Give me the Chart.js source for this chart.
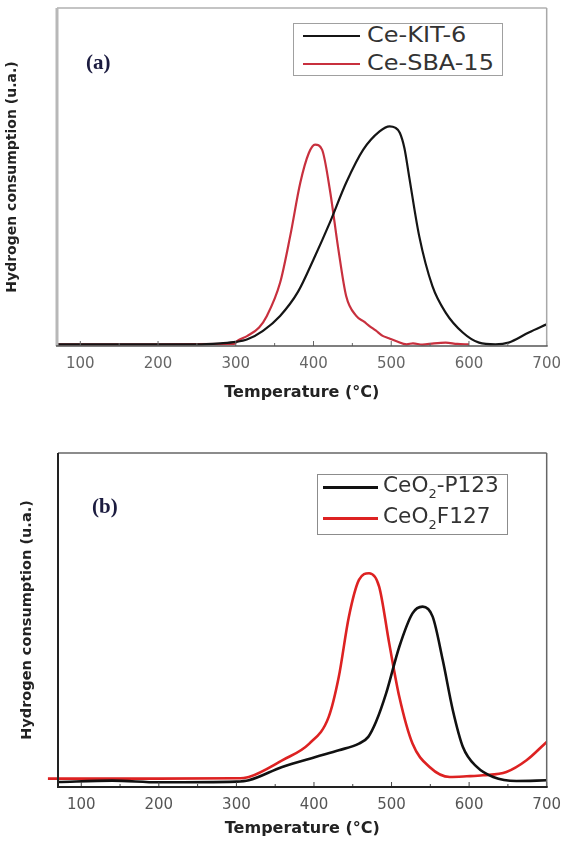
<!DOCTYPE html>
<html>
<head>
<meta charset="utf-8">
<script src="https://cdn.jsdelivr.net/npm/chart.js@4.4.0/dist/chart.umd.min.js"></script>
<style>
  body { margin: 0; background: #fff; width: 570px; height: 846px; position: relative; overflow: hidden; }
  .panel { position: absolute; left: 0; width: 570px; }
  .letter { position: absolute; font: bold 21px "Liberation Serif", "DejaVu Serif", serif; color: #1c1c40; line-height: 1; }
  .legend { position: absolute; background: #fff; font-family: "DejaVu Sans", sans-serif; color: #333; }
  .legend .swatch { position: absolute; }
  .legend .txt { position: absolute; transform-origin: left center; line-height: 1; white-space: nowrap; }
  .legend sub { font-size: 0.6em; vertical-align: -0.5em; line-height: 0; }
</style>
</head>
<body>
<div class="panel" style="top:0;height:410px"><canvas id="chartA"></canvas></div>
<div class="panel" style="top:420px;height:426px"><canvas id="chartB"></canvas></div>
<div class="letter" style="left:86px;top:52px">(a)</div>
<div class="letter" style="left:92px;top:496px">(b)</div>
<div class="legend" id="legendA" style="left:293px;top:23px;width:208px;height:51px;border:1px solid #a0a0a0"></div>
<div class="legend" id="legendB" style="left:317px;top:474px;width:189px;height:59px;border:1px solid #8c8c8c"></div>
<script>
// x axis (Temperature, °C)
const xTicks = [100, 200, 300, 400, 500, 600, 700];
const xMinor = [150, 250, 350, 450, 550, 650];

// panel (a)
const namesA = ['Ce-KIT-6', 'Ce-SBA-15'];
const kitT = [70, 150, 250, 280, 300, 315, 335, 357, 380, 400, 421, 442, 464, 485, 498, 505, 511, 517, 523, 536, 553, 570, 592, 613, 634, 651, 677, 700];
const kitH = [0.5, 0.5, 0.5, 0.8, 1.2, 2.0, 4.5, 8.9, 16, 25.6, 36.5, 48.3, 58.1, 63.5, 65, 64.6, 63.1, 58.5, 50.2, 32.5, 17.7, 9.9, 4.0, 1.0, 0.5, 1.0, 4.0, 6.4];
const sbaT = [70, 200, 298, 302, 315, 330, 340, 357, 370, 383, 394, 402, 411, 421, 432, 442, 455, 465, 472, 480, 489, 497, 506, 520, 528, 540, 555, 570, 585, 600];
const sbaH = [0.5, 0.5, 0.6, 1.5, 3.0, 5.5, 8.9, 18.7, 32.5, 48.3, 57.1, 59.6, 58.1, 46.3, 28.6, 14.8, 8.9, 7.2, 5.9, 4.6, 3.0, 2.3, 1.5, 0.5, 0.8, 0.4, 0.8, 1.0, 0.6, 0.5];

// panel (b)
const namesB = ['CeO₂-P123', 'CeO₂F127'];
const p123T = [70, 140, 200, 300, 316, 359, 402, 432, 458, 470, 480, 493, 510, 527, 540, 553, 566, 579, 592, 610, 631, 661, 700];
const p123H = [1.5, 1.9, 1.4, 1.6, 2.0, 6.0, 9.0, 11.0, 13.0, 15, 19.5, 28, 42, 52, 54, 51, 38, 23, 12, 6, 3, 1.8, 2.0];
const f127T = [57, 200, 300, 316, 359, 394, 419, 432, 445, 458, 471, 484, 497, 510, 527, 549, 575, 597, 618, 648, 674, 700];
const f127H = [2.5, 2.5, 2.6, 3.0, 8.0, 13, 21, 33, 51, 62, 64, 60, 43, 27, 13, 6, 3, 3.2, 3.5, 4.5, 8, 13.5];

const pts = (t, h) => t.map((v, i) => ({ x: v, y: h[i] }));

// frame round the plot area and inward ticks on the x axis
const framePlugin = {
  id: 'frame',
  afterDatasetsDraw(chart, args, o) {
    const { ctx, chartArea: a, scales: { x } } = chart;
    ctx.save();
    const seg = (s, x1, y1, x2, y2) => {
      ctx.strokeStyle = s.color; ctx.lineWidth = s.width;
      ctx.beginPath(); ctx.moveTo(x1, y1); ctx.lineTo(x2, y2); ctx.stroke();
    };
    xTicks.forEach(v => { const p = x.getPixelForValue(v); seg(o.tick, p, a.bottom, p, a.bottom - 5); });
    xMinor.forEach(v => { const p = x.getPixelForValue(v); seg(o.tick, p, a.bottom, p, a.bottom - 3); });
    seg(o.top, a.left, a.top, a.right, a.top);
    seg(o.right, a.right, a.top, a.right, a.bottom);
    seg(o.left, a.left, a.top, a.left, a.bottom);
    seg(o.bottom, a.left - 1, a.bottom, a.right + 1, a.bottom);
    ctx.restore();
  }
};

function makeChart(id, sets, cfg) {
  return new Chart(document.getElementById(id), {
    type: 'line',
    data: { datasets: sets },
    options: {
      responsive: true,
      maintainAspectRatio: false,
      animation: false,
      layout: { padding: cfg.padding },
      elements: { point: { radius: 0 }, line: { cubicInterpolationMode: 'monotone' } },
      plugins: { legend: { display: false }, tooltip: { enabled: false }, frame: cfg.frame },
      scales: {
        x: {
          type: 'linear', min: 70, max: 700,
          afterBuildTicks: s => { s.ticks = xTicks.map(v => ({ value: v })); },
          afterFit: s => { s.height = cfg.xHeight; },
          grid: { display: false, drawTicks: false },
          border: { display: false },
          ticks: { padding: cfg.tickPad, color: cfg.tickColor, font: { family: 'DejaVu Sans', size: 15 } },
          title: { display: true, text: 'Temperature (°C)', color: '#222', font: { family: 'DejaVu Sans', weight: 'bold', size: 16 } }
        },
        y: {
          min: 0, max: 100,
          afterFit: s => { s.width = cfg.yWidth; },
          grid: { display: false, drawTicks: false },
          border: { display: false },
          ticks: { display: false },
          title: { display: true, text: 'Hydrogen consumption (u.a.)', color: '#222', font: { family: 'DejaVu Sans', weight: 'bold', size: cfg.yFont } }
        }
      }
    },
    plugins: [framePlugin]
  });
}

makeChart('chartA', [
  { label: namesA[0], data: pts(kitT, kitH), borderColor: '#151515', borderWidth: 2.2 },
  { label: namesA[1], data: pts(sbaT, sbaH), borderColor: '#c8303e', borderWidth: 2.2 }
], {
  padding: { left: 0, top: 8, right: 17, bottom: 4 },
  xHeight: 60, yWidth: 57, tickPad: 9, tickColor: '#666', yFont: 14,
  frame: {
    tick: { color: '#666', width: 1 },
    top: { color: '#b0b0b0', width: 1.5 }, right: { color: '#a8a8a8', width: 1.5 },
    left: { color: '#b8b8b8', width: 3 }, bottom: { color: '#555', width: 1.5 }
  }
});

makeChart('chartB', [
  { label: namesB[0], data: pts(p123T, p123H), borderColor: '#111', borderWidth: 2.6 },
  { label: namesB[1], data: pts(f127T, f127H), borderColor: '#dd2222', borderWidth: 2.6, clip: { left: 12, top: 0, right: 0, bottom: 0 } }
], {
  padding: { left: 15, top: 33, right: 23, bottom: 4 },
  xHeight: 55, yWidth: 43, tickPad: 9, tickColor: '#555', yFont: 14.5,
  frame: {
    tick: { color: '#444', width: 1 },
    top: { color: '#666', width: 1.5 }, right: { color: '#666', width: 1.5 },
    left: { color: '#222', width: 2 }, bottom: { color: '#222', width: 2 }
  }
});

// legends inside the frames, built from the series names
function buildLegend(id, names, colors, o) {
  const box = document.getElementById(id);
  names.forEach((n, i) => {
    const y = o.rows[i];
    const sw = document.createElement('div');
    sw.className = 'swatch';
    sw.style.cssText = `left:${o.lineX}px;top:${y - o.lineW / 2}px;width:${o.lineLen}px;height:${o.lineW}px;background:${colors[i]}`;
    const t = document.createElement('div');
    t.className = 'txt';
    t.style.cssText = `left:${o.textX}px;top:${y - o.size * 0.55}px;font-size:${o.size}px;transform:scaleX(${o.stretch})`;
    t.innerHTML = n.replace('₂', '<sub>2</sub>');
    box.appendChild(sw); box.appendChild(t);
  });
}
buildLegend('legendA', namesA, ['#151515', '#c8303e'], { rows: [12, 40], lineX: 9, lineLen: 57, lineW: 2.5, textX: 73, size: 20.5, stretch: 1.17 });
buildLegend('legendB', namesB, ['#111', '#dd2222'], { rows: [12, 43], lineX: 5, lineLen: 55, lineW: 3, textX: 65, size: 21, stretch: 1.03 });
</script>
</body>
</html>
